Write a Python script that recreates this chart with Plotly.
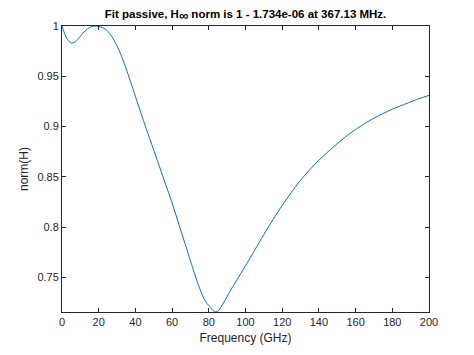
import plotly.graph_objects as go

freq_ghz = [0, 1, 2, 3, 4, 5, 6, 7, 8, 10, 12, 14, 16, 18, 20, 22, 24, 26, 28, 30, 32, 34, 36, 38,
            40, 42, 44, 48, 52, 56, 60, 64, 68, 72, 74, 76, 78, 80, 82, 84, 85, 86, 88, 90, 92, 95,
            100, 105, 110, 115, 120, 125, 130, 135, 140, 145, 150, 155, 160, 165, 170, 175, 180,
            185, 190, 195, 200]
norm_h = [1.0, 0.9945, 0.990, 0.9865, 0.9843, 0.9832, 0.9832, 0.984, 0.9857, 0.9898, 0.994, 0.9973,
          0.9993, 1.0, 0.9995, 0.9985, 0.9963, 0.9925, 0.987, 0.980, 0.972, 0.9625, 0.952, 0.941,
          0.930, 0.919, 0.908, 0.887, 0.866, 0.845, 0.824, 0.801, 0.778, 0.755, 0.744, 0.7345,
          0.7265, 0.722, 0.7175, 0.7156, 0.7163, 0.7185, 0.7245, 0.731, 0.7375, 0.7465,
          0.7615, 0.777, 0.7925, 0.8075, 0.8215, 0.8345, 0.8465, 0.857, 0.8665, 0.875, 0.883,
          0.8905, 0.897, 0.903, 0.9083, 0.913, 0.9172, 0.921, 0.9245, 0.928, 0.931]

x_ticks = [0, 20, 40, 60, 80, 100, 120, 140, 160, 180, 200]
y_ticks = [0.75, 0.8, 0.85, 0.9, 0.95, 1.0]
y_ticktext = ["0.75", "0.8", "0.85", "0.9", "0.95", "1"]

title_text = ("Fit passive, H<sub><span style='font-size:13px'>∞</span></sub>"
              " norm is 1 - 1.734e-06 at 367.13 MHz.")

fig = go.Figure()
fig.add_trace(go.Scatter(x=freq_ghz, y=norm_h, mode="lines",
                         line=dict(color="#0072BD", width=1, shape="spline", smoothing=0.8),
                         showlegend=False, hoverinfo="skip"))

axis_common = dict(showgrid=False, zeroline=False, showline=True, linecolor="#262626",
                   linewidth=1, mirror="ticks", ticks="inside", ticklen=4, tickcolor="#262626",
                   tickfont=dict(family="Liberation Sans, Arial", size=11, color="#262626"))

fig.update_layout(
    width=474, height=355,
    margin=dict(l=62, r=45, t=26, b=40),
    paper_bgcolor="white", plot_bgcolor="white",
    title=dict(text=title_text, x=0.518, xanchor="center", y=0.972, yanchor="top",
               font=dict(family="Liberation Sans, Arial", size=11.5, color="black", weight="bold")),
    xaxis=dict(range=[0, 200], tickvals=x_ticks,
               title=dict(text="Frequency (GHz)", standoff=6,
                          font=dict(family="Liberation Sans, Arial", size=12, color="#262626")),
               **axis_common),
    yaxis=dict(range=[0.7155, 1.0], tickvals=y_ticks, ticktext=y_ticktext,
               title=dict(text="norm(H)", standoff=6,
                          font=dict(family="Liberation Sans, Arial", size=12, color="#262626")),
               **axis_common),
)

fig.write_html("out.html")
